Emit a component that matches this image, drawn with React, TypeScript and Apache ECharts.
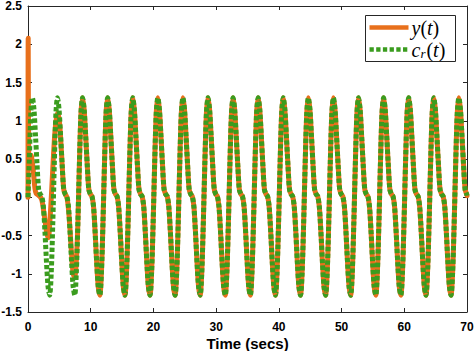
import React, { useEffect, useRef } from "react";
import * as echarts from "echarts";

// ---- data ----
// x axis ticks / y axis ticks
const xTicks = [0, 10, 20, 30, 40, 50, 60, 70];
const yMin = -1.5;
const yMax = 2.5;

// steady oscillation: one period of the waveform (both signals coincide after ~8.5 s)
const cyclePeriod = 4.0; // secs between peaks
const firstPeakTime = 0.7; // secs
const cycleOffsets = [0, 0.25, 0.5, 0.75, 1.0, 1.25, 1.5, 1.75, 2.0, 2.25, 2.5, 2.75, 3.0, 3.25, 3.5, 3.75];
const cycleValues = [1.3, 1.15, 0.8, 0.42, 0.1, 0.04, 0.01, -0.12, -0.45, -0.85, -1.17, -1.28, -1.0, -0.35, 0.45, 1.1];
const endTime = 70;
const endValue = 0.02;

// c_r(t) start
const crStartTimes = [0];
const crStartValues = [0];

// y(t) transient (before it locks onto c_r)
const yTransTimes = [0, 0.03, 0.12, 0.3, 0.5, 0.7, 0.9, 1.1, 1.3, 1.6, 2.0, 2.25, 2.5, 2.75, 3.0, 3.25, 3.5, 3.75, 4.0, 4.25, 4.5, 4.75, 5.0, 5.2, 5.45, 5.7, 5.95, 6.2, 6.45, 6.7, 6.95, 7.2, 7.45, 7.7, 7.95, 8.2, 8.45];
const yTransValues = [0, 2.08, 0.55, 0.45, 0.55, 0.45, 0.3, 0.12, 0.05, 0.03, 0.0, -0.05, -0.18, -0.33, -0.47, -0.53, -0.3, 0.05, 0.45, 0.8, 1.02, 1.1, 1.0, 0.78, 0.42, 0.1, 0.04, 0.0, -0.15, -0.42, -0.75, -1.0, -1.05, -0.85, -0.35, 0.45, 1.1];

const ORANGE = "#E8701C";
const GREEN = "#3A9C1E";
const AXIS = "#262626";

function periodicPoints(fromT: number): number[][] {
  const pts: number[][] = [];
  for (let k = -1; k < 20; k++) {
    for (let i = 0; i < cycleOffsets.length; i++) {
      const t = firstPeakTime + k * cyclePeriod + cycleOffsets[i];
      if (t > fromT && t < endTime) pts.push([+t.toFixed(3), cycleValues[i]]);
    }
  }
  pts.push([endTime, endValue]);
  return pts;
}

export default function App() {
  const ref = useRef<HTMLDivElement>(null);
  useEffect(() => {
    if (!ref.current) return;
    const chart = echarts.init(ref.current, null, { renderer: "svg" });

    const crData: number[][] = crStartTimes.map((t, i) => [t, crStartValues[i]]);
    crData.push(...periodicPoints(0.1));
    const yData: number[][] = yTransTimes.map((t, i) => [t, yTransValues[i]]);
    yData.push(...periodicPoints(yTransTimes[yTransTimes.length - 1] + 0.01));

    const labelFont = { fontFamily: "Liberation Sans, Arial, sans-serif", fontWeight: "bold" as const, fontSize: 12, color: "#000" };
    const axisLine = { show: true, onZero: false, lineStyle: { color: AXIS, width: 1 } };
    const axisTick = { show: true, inside: true, length: 4, lineStyle: { color: AXIS } };

    chart.setOption({
      animation: false,
      backgroundColor: "#fff",
      grid: { left: 28, right: 7, top: 6, bottom: 39, show: false, containLabel: false, outerBoundsMode: "none" },
      xAxis: [
        {
          type: "value",
          min: xTicks[0],
          max: xTicks[xTicks.length - 1],
          interval: 10,
          position: "bottom",
          name: "Time (secs)",
          nameLocation: "middle",
          nameGap: 24,
          nameMoveOverlap: false,
          nameTextStyle: { fontFamily: "Liberation Sans, Arial, sans-serif", fontWeight: "bold", fontSize: 15, color: "#000" },
          axisLine,
          axisTick,
          axisLabel: { ...labelFont, margin: 9 },
          splitLine: { show: false },
        },
        {
          type: "value",
          min: xTicks[0],
          max: xTicks[xTicks.length - 1],
          interval: 10,
          position: "top",
          axisLine,
          axisTick,
          axisLabel: { show: false },
          splitLine: { show: false },
        },
      ],
      yAxis: [
        {
          type: "value",
          min: yMin,
          max: yMax,
          interval: 0.5,
          position: "left",
          axisLine,
          axisTick,
          axisLabel: { ...labelFont, margin: 6 },
          splitLine: { show: false },
        },
        {
          type: "value",
          min: yMin,
          max: yMax,
          interval: 0.5,
          position: "right",
          axisLine,
          axisTick,
          axisLabel: { show: false },
          splitLine: { show: false },
        },
      ],
      series: [
        {
          name: "y(t)",
          type: "line",
          data: yData,
          symbol: "none",
          smooth: 0.3,
          clip: false,
          z: 2,
          lineStyle: { color: ORANGE, width: 5, cap: "round", join: "round" },
        },
        {
          name: "c_r(t)",
          type: "line",
          data: crData,
          symbol: "none",
          smooth: 0.3,
          z: 3,
          lineStyle: { color: GREEN, width: 5, type: [4.3, 2.4], cap: "butt", join: "round" },
        },
      ],
      graphic: [
        {
          type: "group",
          left: 365,
          top: 15,
          z: 10,
          children: [
            { type: "rect", shape: { x: 0, y: 0, width: 90, height: 46 }, style: { fill: "#fff", stroke: AXIS, lineWidth: 1 } },
            { type: "line", shape: { x1: 4, y1: 12, x2: 43, y2: 12 }, style: { stroke: ORANGE, lineWidth: 4.5 } },
            { type: "line", shape: { x1: 4, y1: 34, x2: 43, y2: 34 }, style: { stroke: GREEN, lineWidth: 4.5, lineDash: [4.3, 2.4] } },
            {
              type: "text",
              x: 46,
              y: 12,
              style: {
                text: "{i|y}{n|(}{i|t}{n|)}",
                verticalAlign: "middle",
                rich: {
                  i: { fontFamily: "Liberation Serif, serif", fontStyle: "italic", fontSize: 20, fill: "#000" },
                  n: { fontFamily: "Liberation Serif, serif", fontSize: 20, fill: "#000" },
                },
              },
            },
            {
              type: "text",
              x: 46,
              y: 34,
              style: {
                text: "{i|c}{s|r}{n|(}{i|t}{n|)}",
                verticalAlign: "middle",
                rich: {
                  i: { fontFamily: "Liberation Serif, serif", fontStyle: "italic", fontSize: 20, fill: "#000" },
                  s: { fontFamily: "Liberation Serif, serif", fontStyle: "italic", fontSize: 13, fill: "#000", verticalAlign: "bottom", padding: [6, 1, 0, 0] },
                  n: { fontFamily: "Liberation Serif, serif", fontSize: 20, fill: "#000" },
                },
              },
            },
          ],
        },
      ],
    });
    return () => chart.dispose();
  }, []);
  return <div ref={ref} style={{ position: "fixed", left: 0, top: 0, width: 474, height: 351 }} />;
}
